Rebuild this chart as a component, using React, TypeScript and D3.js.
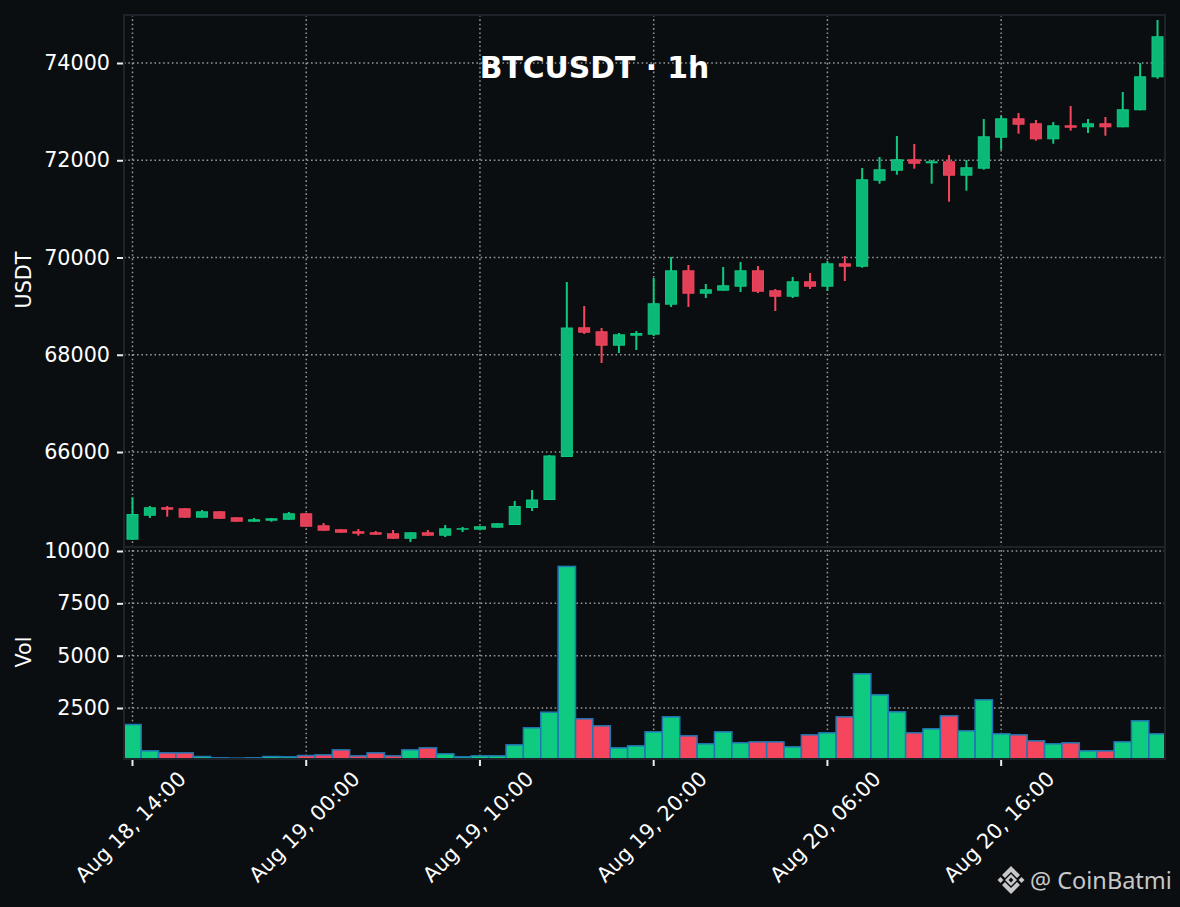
// @ts-nocheck
import React, {useEffect, useRef} from "react";
import * as d3 from "d3";

const opens = [
  64207, 64700, 64853, 64832, 64660, 64770, 64646, 64577, 64598, 64618,
  64729, 64482, 64400, 64359, 64338, 64318, 64227, 64338, 64289, 64413,
  64413, 64454, 64509, 64858, 65023, 65908, 68554, 68472, 68197, 68402,
  68423, 69040, 69726, 69266, 69328, 69410, 69726, 69315, 69204, 69500,
  69410, 69870, 69821, 71590, 71795, 72009, 71948, 71968, 71693, 71837,
  72474, 72852, 72750, 72441, 72708, 72688, 72750, 72688, 73038, 73716,
];
const closes = [
  64715, 64853, 64824, 64660, 64770, 64638, 64577, 64606, 64626, 64729,
  64474, 64392, 64351, 64330, 64310, 64227, 64338, 64289, 64421, 64421,
  64462, 64524, 64879, 65013, 65918, 68550, 68464, 68197, 68410, 68437,
  69048, 69726, 69266, 69336, 69418, 69726, 69307, 69204, 69500, 69410,
  69870, 69821, 71598, 71804, 72009, 71939, 71968, 71693, 71845, 72482,
  72852, 72741, 72441, 72708, 72680, 72750, 72688, 73038, 73716, 74539,
];
const highs = [
  65069, 64890, 64890, 64842, 64807, 64780, 64656, 64643, 64643, 64766,
  64739, 64540, 64410, 64417, 64375, 64396, 64348, 64396, 64499, 64458,
  64472, 64534, 64992, 65219, 65938, 69496, 69003, 68550, 68447, 68488,
  69579, 70011, 69846, 69455, 69805, 69907, 69825, 69352, 69599, 69681,
  69928, 70031, 71841, 72067, 72499, 72334, 72005, 72108, 72005, 72848,
  72910, 72972, 72828, 72787, 73116, 72848, 72889, 73404, 74000, 74884,
];
const lows = [
  64197, 64643, 64669, 64649, 64649, 64628, 64566, 64566, 64566, 64608,
  64464, 64381, 64340, 64279, 64299, 64217, 64148, 64279, 64252, 64355,
  64390, 64444, 64499, 64786, 65013, 65897, 68427, 67830, 68036, 68098,
  68386, 68982, 68982, 69167, 69318, 69290, 69270, 68900, 69167, 69352,
  69311, 69517, 69790, 71518, 71703, 71826, 71518, 71148, 71374, 71806,
  72217, 72546, 72402, 72340, 72608, 72560, 72505, 72678, 73028, 73677,
];
const volumes = [
  1711, 454, 358, 358, 182, 120, 105, 120, 182, 167,
  230, 263, 502, 215, 358, 215, 502, 598, 311, 167,
  215, 215, 741, 1554, 2299, 9264, 1984, 1649, 598, 693,
  1362, 2079, 1171, 789, 1362, 837, 884, 884, 645, 1219,
  1315, 2079, 4135, 3131, 2318, 1315, 1506, 2127, 1410, 2892,
  1267, 1219, 932, 789, 837, 454, 454, 884, 1888, 1267,
];

const priceTicks = [66000, 68000, 70000, 72000, 74000];
const volumeTicks = [2500, 5000, 7500, 10000];
const dateTicks = [0, 10, 20, 30, 40, 50];
const dateLabels = [
  "Aug 18, 14:00",
  "Aug 19, 00:00",
  "Aug 19, 10:00",
  "Aug 19, 20:00",
  "Aug 20, 06:00",
  "Aug 20, 16:00",
];

const WIDTH = 1180;
const HEIGHT = 907;
const LEFT = 124;
const RIGHT = 1165;
const PRICE_TOP = 15;
const SPLIT = 547;
const BOTTOM = 759;

const BG = "#0b0e11";
const SPINE = "#1e2329";
const UP = "#0ecb81";
const DOWN = "#f6465d";
const FONT = "'DejaVu Sans', sans-serif";

export default function App() {
  const svgRef = useRef<SVGSVGElement>(null);

  useEffect(() => {
    const svg = d3.select(svgRef.current);
    svg.selectAll("*").remove();

    const index = d3.range(opens.length);
    const x = d3.scaleBand().domain(index).range([123.8, 1166.2]);
    const mid = (i) => x(i) + x.bandwidth() / 2;
    const yPrice = d3.scaleLinear().domain([66000, 74000]).range([452, 63]);
    const yVol = d3.scaleLinear().domain([2500, 10000]).range([708, 551]);

    const isUp = (i) => closes[i] >= opens[i];
    const color = (i) => (isUp(i) ? UP : DOWN);

    svg
      .append("defs")
      .append("clipPath")
      .attr("id", "vol-clip")
      .append("rect")
      .attr("x", LEFT)
      .attr("y", SPLIT)
      .attr("width", RIGHT - LEFT)
      .attr("height", BOTTOM - SPLIT);

    // Grid
    const grid = svg
      .append("g")
      .attr("stroke", "#c4c4c4")
      .attr("stroke-opacity", 0.75)
      .attr("stroke-width", 1.5)
      .attr("stroke-dasharray", "1.6 2.75");
    grid
      .selectAll(".h-price")
      .data(priceTicks)
      .join("line")
      .attr("class", "h-price")
      .attr("x1", LEFT)
      .attr("x2", RIGHT)
      .attr("y1", (d) => yPrice(d))
      .attr("y2", (d) => yPrice(d));
    grid
      .selectAll(".h-vol")
      .data(volumeTicks)
      .join("line")
      .attr("class", "h-vol")
      .attr("x1", LEFT)
      .attr("x2", RIGHT)
      .attr("y1", (d) => yVol(d))
      .attr("y2", (d) => yVol(d));
    grid
      .selectAll(".v")
      .data(dateTicks)
      .join("line")
      .attr("class", "v")
      .attr("x1", (d) => mid(d))
      .attr("x2", (d) => mid(d))
      .attr("y1", PRICE_TOP)
      .attr("y2", BOTTOM);

    // Volume bars
    svg
      .append("g")
      .attr("clip-path", "url(#vol-clip)")
      .selectAll("rect")
      .data(index)
      .join("rect")
      .attr("x", (i) => x(i))
      .attr("width", x.bandwidth())
      .attr("y", (i) => yVol(volumes[i]))
      .attr("height", (i) => BOTTOM + 2 - yVol(volumes[i]))
      .attr("fill", color)
      .attr("stroke", "#1f77b4")
      .attr("stroke-width", 1.5);

    // Candles
    const candles = svg.append("g");
    candles
      .selectAll("line")
      .data(index)
      .join("line")
      .attr("x1", mid)
      .attr("x2", mid)
      .attr("y1", (i) => yPrice(highs[i]))
      .attr("y2", (i) => yPrice(lows[i]))
      .attr("stroke", color)
      .attr("stroke-width", 2);
    candles
      .selectAll("rect")
      .data(index)
      .join("rect")
      .attr("x", (i) => mid(i) - 5.5)
      .attr("width", 11)
      .attr("y", (i) => yPrice(Math.max(opens[i], closes[i])))
      .attr("height", (i) => Math.abs(yPrice(opens[i]) - yPrice(closes[i])))
      .attr("fill", (i) => (isUp(i) ? "#0cb877" : "#e14058"))
      .attr("stroke", color)
      .attr("stroke-width", 1);

    // Axes
    const styleAxis = (g) => {
      g.select(".domain").remove();
      g.selectAll("line").attr("stroke", "#eaecef").attr("stroke-width", 2);
      g.selectAll("text")
        .attr("fill", "#ffffff")
        .style("font-size", "20.7px")
        .style("font-family", FONT);
    };

    const priceAxis = svg
      .append("g")
      .attr("transform", `translate(${LEFT - 1},0)`)
      .call(d3.axisLeft(yPrice).tickValues(priceTicks).tickFormat(d3.format("d")).tickSize(6).tickPadding(7))
      .call(styleAxis);
    priceAxis.selectAll("text").attr("dy", "0.32em");

    const volAxis = svg
      .append("g")
      .attr("transform", `translate(${LEFT - 1},0)`)
      .call(d3.axisLeft(yVol).tickValues(volumeTicks).tickFormat(d3.format("d")).tickSize(6).tickPadding(7))
      .call(styleAxis);
    volAxis.selectAll("text").attr("dy", "0.32em");

    const xAxis = svg
      .append("g")
      .attr("transform", `translate(0,${BOTTOM + 1})`)
      .call(
        d3
          .axisBottom(x)
          .tickValues(dateTicks)
          .tickFormat((d, i) => dateLabels[i])
          .tickSize(6)
      )
      .call(styleAxis);
    xAxis
      .selectAll("text")
      .attr("text-anchor", "end")
      .attr("dy", null)
      .attr("y", null)
      .attr("transform", "translate(50.5,16) rotate(-45)")
      .attr("dominant-baseline", "middle");

    // Spines
    const spines = svg.append("g").attr("stroke", SPINE).attr("stroke-width", 2).attr("fill", "none");
    spines.append("rect").attr("x", LEFT).attr("y", PRICE_TOP).attr("width", RIGHT - LEFT).attr("height", SPLIT - PRICE_TOP);
    spines.append("rect").attr("x", LEFT).attr("y", SPLIT).attr("width", RIGHT - LEFT).attr("height", BOTTOM - SPLIT);
  }, []);

  return (
    <div style={{position: "absolute", left: 0, top: 0, width: WIDTH, height: HEIGHT, background: BG}}>
      <svg ref={svgRef} width={WIDTH} height={HEIGHT} style={{display: "block", position: "absolute", left: 0, top: 0}} />
      <svg width={WIDTH} height={HEIGHT} style={{display: "block", position: "absolute", left: 0, top: 0}} fontFamily={FONT}>
        <text x={594.5} y={78} textAnchor="middle" fill="#ffffff" fontSize={29.8} fontWeight="bold">
          BTCUSDT · 1h
        </text>
        <text transform="translate(31,280) rotate(-90)" textAnchor="middle" fill="#ffffff" fontSize={20.7}>
          USDT
        </text>
        <text transform="translate(31,652) rotate(-90)" textAnchor="middle" fill="#ffffff" fontSize={20.7}>
          Vol
        </text>
        {/* watermark */}
        <g fill="#c8c8c8" transform="translate(1011,880)">
          <path d="M0,-6 L6,0 L0,6 L-6,0 Z M0,-2.4 L-2.4,0 L0,2.4 L2.4,0 Z" fillRule="evenodd" />
          <path d="M-13.5,0 L-10.5,-3 L-7.5,0 L-10.5,3 Z" />
          <path d="M13.5,0 L10.5,-3 L7.5,0 L10.5,3 Z" />
          <path d="M0,-14 L9,-5 L6,-2 L0,-8 L-6,-2 L-9,-5 Z" />
          <path d="M0,14 L9,5 L6,2 L0,8 L-6,2 L-9,5 Z" />
        </g>
        <text x={1030} y={889} fill="#c8c8c8" fontSize={23.5} fontFamily="'Noto Sans', sans-serif">
          @ CoinBatmi
        </text>
      </svg>
    </div>
  );
}
